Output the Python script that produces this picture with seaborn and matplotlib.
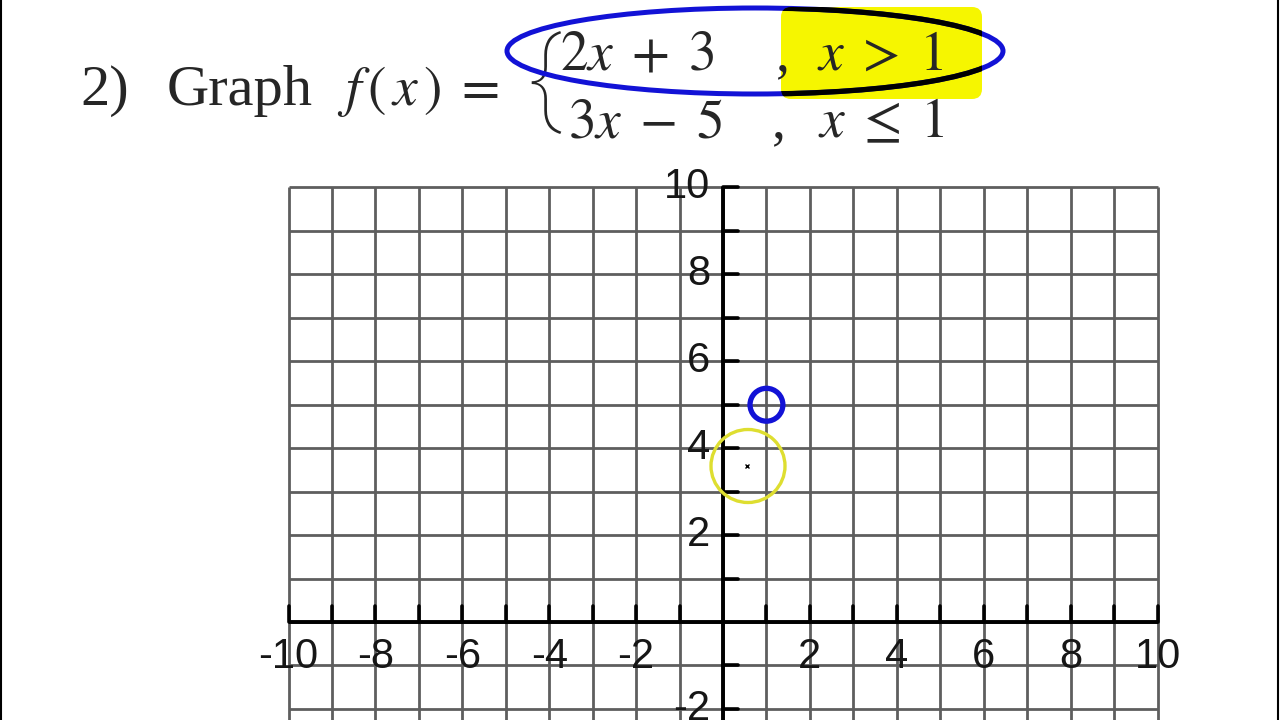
import numpy as np
import pandas as pd
import seaborn as sns
import matplotlib.pyplot as plt
from matplotlib.patches import Ellipse, FancyBboxPatch

# данные графика
grid_x = list(range(-10, 11))
grid_y = list(range(-3, 11))
x_tick_labels = [-10, -8, -6, -4, -2, 2, 4, 6, 8, 10]
y_tick_labels = [10, 8, 6, 4, 2, -2]
open_x = [1]
open_y = [5]

title_num = "2)"
title_word = "Graph"
func_name = r"$f\,(\,x\,)\;=$"
row1_expr = r"$2x\;+\;3$"
row1_cond = r"$x\;>\;1$"
row2_expr = r"$3x\;-\;5$"
row2_cond = r"$x\;\leq\;1$"

sns.set_style("white")
plt.rcParams['font.family'] = ['Liberation Sans', 'DejaVu Sans']
plt.rcParams['mathtext.fontset'] = 'stix'

# пиксельная раскладка сетки
X0, Y0, U = 723, 622, 43.45
W, H = 1280, 720

fig = plt.figure(figsize=(12.8, 7.2), dpi=100)
ax = fig.add_axes([0, 0, 1, 1])
ax.set_xlim(-X0 / U, (W - X0) / U)
ax.set_ylim(-(H - Y0) / U, Y0 / U)
ax.axis('off')
ymin = ax.get_ylim()[0]

grid_col = '#5e5e5e'
ax.vlines(grid_x, ymin, 10, colors=grid_col, lw=2.0, zorder=1)
ax.hlines(grid_y, -10, 10, colors=grid_col, lw=2.0, zorder=1)

# оси
ax.plot([-10, 10], [0, 0], color='black', lw=2.8, solid_capstyle='butt', zorder=3)
ax.plot([0, 0], [ymin, 10], color='black', lw=2.8, solid_capstyle='butt', zorder=3)
for x in grid_x:
    if x != 0:
        ax.plot([x, x], [0, 0.36], color='black', lw=2.6, zorder=3)
for y in grid_y:
    if y != 0:
        ax.plot([0, 0.34], [y, y], color='black', lw=2.6, zorder=3)

for v in x_tick_labels:
    ax.text(v, -0.8, str(v), ha='center', va='center', fontsize=30,
            color='#161616', zorder=4)
for v in y_tick_labels:
    ax.text(-0.3, v, str(v), ha='right', va='center', fontsize=30,
            color='#161616', zorder=4)

# открытая точка
sns.scatterplot(x=open_x, y=open_y, ax=ax, marker='o', s=560,
                facecolors='none', edgecolor='#1212d6', linewidth=3.8, zorder=6)

# верхний слой в пикселях
ov = fig.add_axes([0, 0, 1, 1])
ov.set_xlim(0, W)
ov.set_ylim(H, 0)
ov.axis('off')
ov.patch.set_alpha(0)

serif = ['Liberation Serif', 'DejaVu Serif']
ov.text(80, 105, title_num, fontsize=42, family=serif, va='baseline')
ov.text(167, 105, title_word, fontsize=42, family=serif, va='baseline')
ov.text(337, 105, func_name, fontsize=40, va='baseline')
ov.text(527, 83, "{", fontsize=74, family=['Roboto', 'DejaVu Sans'],
        fontweight='light', va='center')

hl = FancyBboxPatch((781, 7), 201, 92, boxstyle='round,pad=0,rounding_size=10',
                    facecolor='#f6f600', edgecolor='none', zorder=1)
ov.add_patch(hl)

ov.text(560, 70, row1_expr, fontsize=40, va='baseline', zorder=3)
ov.text(776, 70, ",", fontsize=40, family=serif, va='baseline', zorder=3)
ov.text(817, 70, row1_cond, fontsize=40, va='baseline', zorder=3)
ov.text(568, 137, row2_expr, fontsize=40, va='baseline', zorder=3)
ov.text(772, 137, ",", fontsize=40, family=serif, va='baseline', zorder=3)
ov.text(818, 137, row2_cond, fontsize=40, va='baseline', zorder=3)

ell = Ellipse((755, 51), 496, 86, fill=False, edgecolor='#1212d6', lw=3.6, zorder=4)
ov.add_patch(ell)
ell_dark = Ellipse((755, 51), 496, 86, fill=False, edgecolor='black', lw=3.8, zorder=5)
ov.add_patch(ell_dark)
ell_dark.set_clip_path(hl)

# курсор
ov.add_patch(Ellipse((748, 466), 74, 73, fill=False, edgecolor='#dede30', lw=2.4, zorder=6))
ov.plot([747], [466], marker='x', ms=3, color='black', mew=1, zorder=7)

# рамка страницы
ov.plot([1, 1], [0, H], color='black', lw=1.5)
ov.plot([W - 2, W - 2], [0, H], color='black', lw=1.5)

fig.savefig('out.png', dpi=100)
